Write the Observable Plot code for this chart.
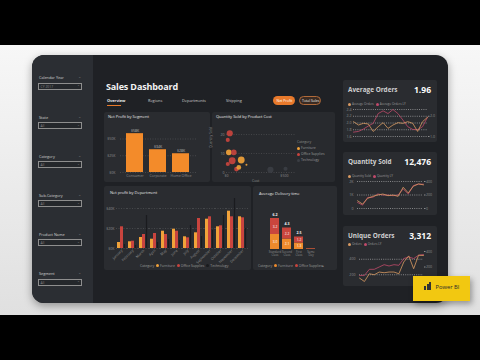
<!DOCTYPE html>
<html><head><meta charset="utf-8">
<script src="https://cdn.jsdelivr.net/npm/d3@7"></script>
<script src="https://cdn.jsdelivr.net/npm/@observablehq/plot@0.6"></script>
<style>
*{box-sizing:border-box;}
html,body{margin:0;padding:0;background:#000;}
body{width:480px;height:360px;overflow:hidden;position:relative;font-family:"Open Sans","Noto Sans","DejaVu Sans",sans-serif;}
.a{position:absolute;}
.t{position:absolute;white-space:nowrap;line-height:1;}
svg{display:block;}
</style></head><body>
<div class="a" style="left:0;top:45px;width:480px;height:270px;background:linear-gradient(180deg,#f7f7f7,#e0e0e0);"></div>
<div class="a" style="left:32px;top:55px;width:416px;height:248px;border-radius:12px;background:#1f2125;overflow:hidden;box-shadow:0 3px 8px rgba(0,0,0,.35);">
  <div class="a" style="left:0;top:0;width:61px;height:248px;background:#2b2e33;"></div>
</div>
<script>
// ---------------- DATA ----------------
const slicerLabels = ["Calendar Year","State","Category","Sub-Category","Product Name","Segment"];
const slicerValues = ["CY 2017","All","All","All","All","All"];
const tabNames = ["Overview","Regions","Departments","Shipping"];

const segNames = ["Consumer","Corporate","Home Office"];
const segProfit = [58000, 34000, 28000];

const scatterCost = [28, 11, 20, 63, 49, 127, 172, 86, 106, 11, 379, 509];
const scatterQty  = [20.7, 17.2, 10.6, 10.6, 6.2, 6.6, 4.1, 1.8, 2.7, 4.5, 1.4, 2];
const scatterSize = [9, 4, 7.4, 7.4, 11, 11, 1, 5.3, 5.3, 4, 9, 4];
const scatterCat  = ["Office Supplies","Office Supplies","Furniture","Office Supplies","Office Supplies","Furniture","Furniture","Office Supplies","Furniture","Office Supplies","Technology","Technology"];

const categories = ["Furniture","Office Supplies","Technology"];
const months = ["January","February","March","April","May","June","July","August","September","October","November","December"];
const furnProfit   = [6, 6.7, 11, 9.3, 17.3, 19.3, 11.7, 15.7, 29.3, 21.7, 37.3, 31.7];
const officeProfit = [21.7, 7.3, 14, 15, 14, 17.3, 10.7, 30, 31.7, 22.7, 31.7, 30.7];
const techProfit   = [4, 3, 33, 6, 9, 8, 23, 12, 18, 33, 50, 20];

const shipModes = ["Standard Class","Second Class","First Class","Same Day"];
const shipFurn   = [3.0, 2.1, 1.3, 0.1];
const shipOffice = [3.2, 2.2, 1.2, 0.1];

const avgOrders   = [2.04,1.94,1.99,1.97,1.75,1.89,2.01,1.84,1.94,2.01,1.99,2.04,1.99,1.75,2.04,2.17];
const avgOrdersLY = [1.73,1.75,1.82,1.91,1.99,2.28,2.36,2.28,2.40,2.28,2.09,1.89,1.81,1.80,1.89,2.17];
const avgTicks = [1.6,1.8,2.0,2.2,2.4];
const avgRightTicks = [2.2,1.6]; const avgRightLabels = ["2.0","1.0"];

const qtySold   = [575,325,750,900,1000,1075,950,1000,900,1575,1150,1650,1825,1750];
const qtySoldLY = [450,250,825,825,1075,1000,1000,950,1000,1450,1075,1700,1800,1800];
const qtyTicks = [0,1000,2000]; const qtyTickLabels = ["0","1K","2K"];
const qtyRightTicks = [2000,1000,0]; const qtyRightLabels = ["400","200","0"];

const uniqOrders   = [157,113,213,200,235,226,235,235,213,365,443,278,452,448];
const uniqOrdersLY = [191,191,270,270,300,330,313,330,322,409,430,409,452,461];
const uniqTicks = [200,400];
const uniqRightTicks = [500,300]; const uniqRightLabels = ["400","200"];

const kpiTitles = ["Average Orders","Quantity Sold","Unique Orders"];
const kpiValues = ["1.96","12,476","3,312"];
const kpiLegends = [["Average Orders","Average Orders LY"],["Quantity Sold","Quantity LY"],["Orders","Orders LY"]];

// ---------------- COLORS ----------------
const ORANGE = "#f38b2a", FURN = "#f0a23a", OFFICE = "#c8443e", TECH = "#1a1b1e";
const LINE1 = "#d99a62", LINE2 = "#c04a6a";

// ---------------- HELPERS ----------------
function txt(s, x, y, css){ const d=document.createElement('div'); d.className='t'; d.textContent=s; d.style.left=x+'px'; d.style.top=y+'px'; d.style.cssText += ';'+(css||''); document.body.appendChild(d); return d; }
function box(x,y,w,h,css){ const d=document.createElement('div'); d.className='a'; d.style.cssText=`left:${x}px;top:${y}px;width:${w}px;height:${h}px;`+(css||''); document.body.appendChild(d); return d; }
function place(svg,x,y){ const w=box(x,y,0,0,''); w.style.width='auto'; w.style.height='auto'; w.appendChild(svg); }
function legend(x,y,items,css){ const d=document.createElement('div'); d.className='t'; d.style.left=x+'px'; d.style.top=y+'px'; d.style.cssText+=';font-size:3.4px;color:#9a9a9a;'+(css||''); 
  d.innerHTML = items.map(([c,l])=> c? `<span style="display:inline-block;width:3px;height:3px;border-radius:50%;background:${c};margin:0 1px 0 2px;vertical-align:middle"></span><span style="vertical-align:middle">${l}</span>` : `<span style="vertical-align:middle">${l}</span>`).join(''); document.body.appendChild(d); return d; }
const baseStyle = {background:"transparent", color:"#8d8d8d", fontSize:"3.6px", fontFamily:"Open Sans, sans-serif", overflow:"visible"};

// ---------------- SIDEBAR ----------------
slicerLabels.forEach((l,i)=>{
  const cy = 78.3 + i*39.2;
  txt(l, 39, cy-2, 'font-size:3.8px;color:#d2d2d2;');
  txt('⌄', 78, cy-3, 'font-size:4px;color:#777;');
  box(38, cy+4.3, 44, 7, 'border:1px solid #8e8e8e;background:#24272b;');
  txt(slicerValues[i], 40.5, cy+6.2, 'font-size:3.4px;color:#858585;');
  txt('⌄', 77, cy+5, 'font-size:3.6px;color:#777;');
});

// ---------------- HEADER ----------------
txt("Sales Dashboard", 106, 81.5, 'font-size:9px;font-weight:700;color:#f2f2f2;letter-spacing:-0.15px;');
const tabX = [107,148,182,226];
tabNames.forEach((t,i)=> txt(t, tabX[i], 99.3, `font-size:3.9px;color:${i==0?'#f0f0f0':'#cfcfcf'};font-weight:${i==0?700:400};`));
box(107,104.5,14,0.8,'background:#e8792b;');
box(273,96,22,9,'background:#e8792b;border-radius:5px;');
txt("Net Profit", 276.5, 98.8, 'font-size:3.5px;color:#fff;');
box(299,96,22,9,'background:#3a2b23;border:1px solid #b06a3a;border-radius:5px;');
txt("Total Sales", 302, 98.8, 'font-size:3.5px;color:#eee;');

// ---------------- CARDS ----------------
box(104,112,106,70,'background:#2a2c30;border-radius:2px;');
box(212,112,123,70,'background:#282a2e;border-radius:2px;');
box(104,186,147,84,'background:#2a2c30;border-radius:2px;');
box(253,186,84,84,'background:#2a2c30;border-radius:2px;');
box(343,80,94,62,'background:#2a2c30;border-radius:2px;');
box(343,152,94,63,'background:#2a2c30;border-radius:2px;');
box(343,226,94,60,'background:#2a2c30;border-radius:2px;');

txt("Net Profit by Segment", 108, 115.3, 'font-size:4px;color:#e8e8e8;');
txt("Quantity Sold by Product Cost", 216, 115.3, 'font-size:4px;color:#e8e8e8;');
txt("Net profit by Department", 110, 191.3, 'font-size:4px;color:#e8e8e8;');
txt("Average Delivery time", 259, 192.3, 'font-size:4px;color:#e8e8e8;');

// Chart 1: Net Profit by Segment
const segData = segNames.map((s,i)=>({segment:s, profit:segProfit[i]}));
place(Plot.plot({
  width:106, height:58, marginLeft:16, marginRight:14, marginTop:8, marginBottom:8, style:baseStyle,
  x:{domain:segNames, padding:0.25, axis:null},
  y:{domain:[0,62700], axis:null},
  marks:[
    Plot.gridY([0,25000,50000],{stroke:"#9a9a9a", strokeDasharray:"1,1.5", strokeOpacity:0.5, strokeWidth:0.5}),
    Plot.barY(segData,{x:"segment", y:"profit", fill:ORANGE}),
    Plot.text(segData,{x:"segment", y:"profit", text:d=>"$"+Math.round(d.profit/1000)+"K", dy:-3, fill:"#bdbdbd", fontSize:3.5}),
    Plot.axisX({tickSize:0, tickPadding:2, label:null}),
    Plot.axisY({ticks:[0,25000,50000], tickFormat:d=>"$"+d/1000+"K", tickSize:0, tickPadding:5, label:null})
  ]
}), 104, 122);

// Chart 2: scatter
const scData = scatterCost.map((c,i)=>({cost:c, qty:scatterQty[i], size:scatterSize[i], cat:scatterCat[i]}));
place(Plot.plot({
  width:123, height:62, marginLeft:14, marginRight:40, marginTop:6, marginBottom:12, style:baseStyle,
  x:{domain:[0,595], axis:null},
  y:{domain:[0,23.2], axis:null},
  r:{domain:[0,11], range:[0,3.4]},
  color:{domain:categories, range:[FURN, OFFICE, "#3b3e44"]},
  marks:[
    Plot.gridY([0,10,20],{stroke:"#9a9a9a", strokeDasharray:"1,1.5", strokeOpacity:0.5, strokeWidth:0.5}),
    Plot.dot(scData,{x:"cost", y:"qty", r:"size", fill:"cat", fillOpacity:0.92}),
    Plot.axisX({ticks:[0,500], tickFormat:d=>"$"+d, tickSize:0, tickPadding:2, label:null}),
    Plot.axisY({ticks:[0,10,20], tickSize:0, tickPadding:2, label:null})
  ]
}), 212, 122);
txt("Cost", 252, 178.5, 'font-size:3.5px;color:#8d8d8d;');
txt("Quantity Sold", 209, 148, 'font-size:3.3px;color:#8d8d8d;transform:rotate(-90deg);transform-origin:left top;');
txt("Category", 297, 140.3, 'font-size:3.4px;color:#8d8d8d;');
[[FURN,"Furniture"],[OFFICE,"Office Supplies"],["#3b3e44","Technology"]].forEach(([c,l],i)=>legend(295, 146.3+i*6, [[c,l]]));

// Chart 3: Net profit by Department (monthly)
const deptData = [];
months.forEach((m,i)=>{
  deptData.push({month:m, cat:categories[0], profit:furnProfit[i]});
  deptData.push({month:m, cat:categories[1], profit:officeProfit[i]});
  deptData.push({month:m, cat:categories[2], profit:techProfit[i]});
});
place(Plot.plot({
  width:147, height:66, marginLeft:12, marginRight:3, marginTop:2, marginBottom:14, style:baseStyle,
  fx:{domain:months, padding:0, label:null, tickRotate:-45, tickSize:0, tickPadding:1.5},
  x:{domain:categories, paddingInner:0.1, paddingOuter:0.35, axis:null},
  y:{domain:[0,50], ticks:[0,20,40], tickFormat:d=>"$"+d+"K", tickSize:0, tickPadding:2, label:null},
  color:{domain:categories, range:[FURN, OFFICE, TECH]},
  marks:[
    Plot.gridY([0,20,40],{stroke:"#9a9a9a", strokeDasharray:"1,1.5", strokeOpacity:0.5, strokeWidth:0.5}),
    Plot.barY(deptData,{fx:"month", x:"cat", y:"profit", fill:"cat", filter:d=>d.cat!=="Technology"}),
    Plot.barY(deptData,{fx:"month", x:"cat", y:"profit", fill:"cat", filter:d=>d.cat==="Technology", insetLeft:0.9, insetRight:0.9})
  ]
}), 104, 196);
legend(140, 263.5, [[null,"Category"],[FURN,"Furniture"],[OFFICE,"Office Supplies"],[TECH,"Technology"]]);

// Chart 4: Average Delivery time
const shipData = [];
shipModes.forEach((m,i)=>{
  shipData.push({mode:m, cat:"Furniture", v:shipFurn[i]});
  shipData.push({mode:m, cat:"Office Supplies", v:shipOffice[i]});
});
place(Plot.plot({
  width:84, height:60, marginLeft:12, marginRight:17, marginTop:4, marginBottom:16, style:{...baseStyle, fontSize:"3px"},
  x:{domain:shipModes, padding:0.27, axis:null},
  y:{domain:[0,8], axis:null},
  color:{domain:["Furniture","Office Supplies"], range:["#ee8a2c","#c9453d"]},
  marks:[
    Plot.barY(shipData,{x:"mode", y:"v", fill:"cat"}),
    Plot.text(shipData, Plot.stackY({x:"mode", y:"v", z:"cat", text:d=> d.v>=0.5 ? d.v.toFixed(1) : "", fill:"#fff", fontSize:3.3})),
    Plot.text(shipData, Plot.groupX({y:"sum", text:v=>d3.sum(v).toFixed(1)},{x:"mode", y:"v", text:"v", filter:d=>d.v>=0.5, dy:-4, fill:"#f2f2f2", fontSize:3.6, fontWeight:700})),
    Plot.axisX({tickSize:0, tickPadding:1.5, tickFormat:d=>d.replace(" ","\n"), lineHeight:1.05, label:null, fontSize:2.9})
  ]
}), 253, 205);
legend(258, 263.5, [[null,"Category"],["#ee8a2c","Furniture"],["#c9453d","Office Supplies"],[null,"▸"]]);

// ---------------- KPI CARDS ----------------
const kpiTops = [80,152,226];
kpiTitles.forEach((t,i)=>{
  const y = kpiTops[i];
  txt(t, 348, y+7, 'font-size:6.4px;font-weight:700;color:#cfcfcf;');
  const v = txt(kpiValues[i], 0, y+6, 'font-size:8.5px;font-weight:700;color:#fafafa;');
  v.style.left = 'auto'; v.style.right = (480-431)+'px';
  legend(346, y+ (i==2?16.5:22.5), [[LINE1,kpiLegends[i][0]],[LINE2,kpiLegends[i][1]]], 'font-size:3px;');
});

function lineChart(o){
  const rmap = new Map(o.rightTicks.map((t,i)=>[t,o.rightLabels[i]]));
  return Plot.plot({
    width:o.width, height:o.height, marginLeft:o.mL, marginRight:o.mR, marginTop:o.mT, marginBottom:o.mB, style:baseStyle,
    x:{domain:[0,o.cur.length-1], axis:null},
    y:{domain:o.domain, axis:null},
    marks:[
      Plot.ruleY(o.ticks,{stroke:"#e0e0e0", strokeDasharray:"1,1.2", strokeWidth:0.6, strokeOpacity:0.85}),
      Plot.axisY({ticks:o.ticks, tickFormat:o.fmt, tickSize:0, tickPadding:o.tp, label:null, anchor:"left"}),
      Plot.axisY({ticks:o.rightTicks, tickFormat:d=>rmap.get(d), tickSize:1.5, tickPadding:1, label:null, anchor:"right"}),
      Plot.line(o.ly,{x:(d,i)=>i, y:d=>d, stroke:LINE2, strokeWidth:0.8}),
      Plot.line(o.cur,{x:(d,i)=>i, y:d=>d, stroke:LINE1, strokeWidth:0.8})
    ]
  });
}
place(lineChart({width:94, height:36, mL:10, mR:10, mT:3, mB:6, domain:[1.6,2.4], ticks:avgTicks, fmt:d=>d.toFixed(1), tp:2,
  rightTicks:avgRightTicks, rightLabels:avgRightLabels, cur:avgOrders, ly:avgOrdersLY}), 343, 106);
const qmap = new Map(qtyTicks.map((t,i)=>[t,qtyTickLabels[i]]));
place(lineChart({width:94, height:34, mL:14, mR:14, mT:4, mB:3, domain:[0,2000], ticks:qtyTicks, fmt:d=>qmap.get(d), tp:4,
  rightTicks:qtyRightTicks, rightLabels:qtyRightLabels, cur:qtySold, ly:qtySoldLY}), 343, 177);
place(lineChart({width:94, height:38, mL:16, mR:14, mT:3, mB:4, domain:[100,500], ticks:uniqTicks, fmt:d=>String(d), tp:4,
  rightTicks:uniqRightTicks, rightLabels:uniqRightLabels, cur:uniqOrders, ly:uniqOrdersLY}), 343, 248);

// ---------------- POWER BI BADGE ----------------
box(413,276,57,25,'background:#f2c811;box-shadow:2px 3px 6px rgba(0,0,0,.35);');
box(424,286,2,4,'border:0.7px solid #333;');
box(426.5,284,2,6,'border:0.7px solid #333;');
box(429,282,2,8,'border:0.7px solid #333;background:#333;');
txt("Power BI", 435.5, 284.5, 'font-size:5.8px;color:#2b2b2b;');
</script>
</body></html>
